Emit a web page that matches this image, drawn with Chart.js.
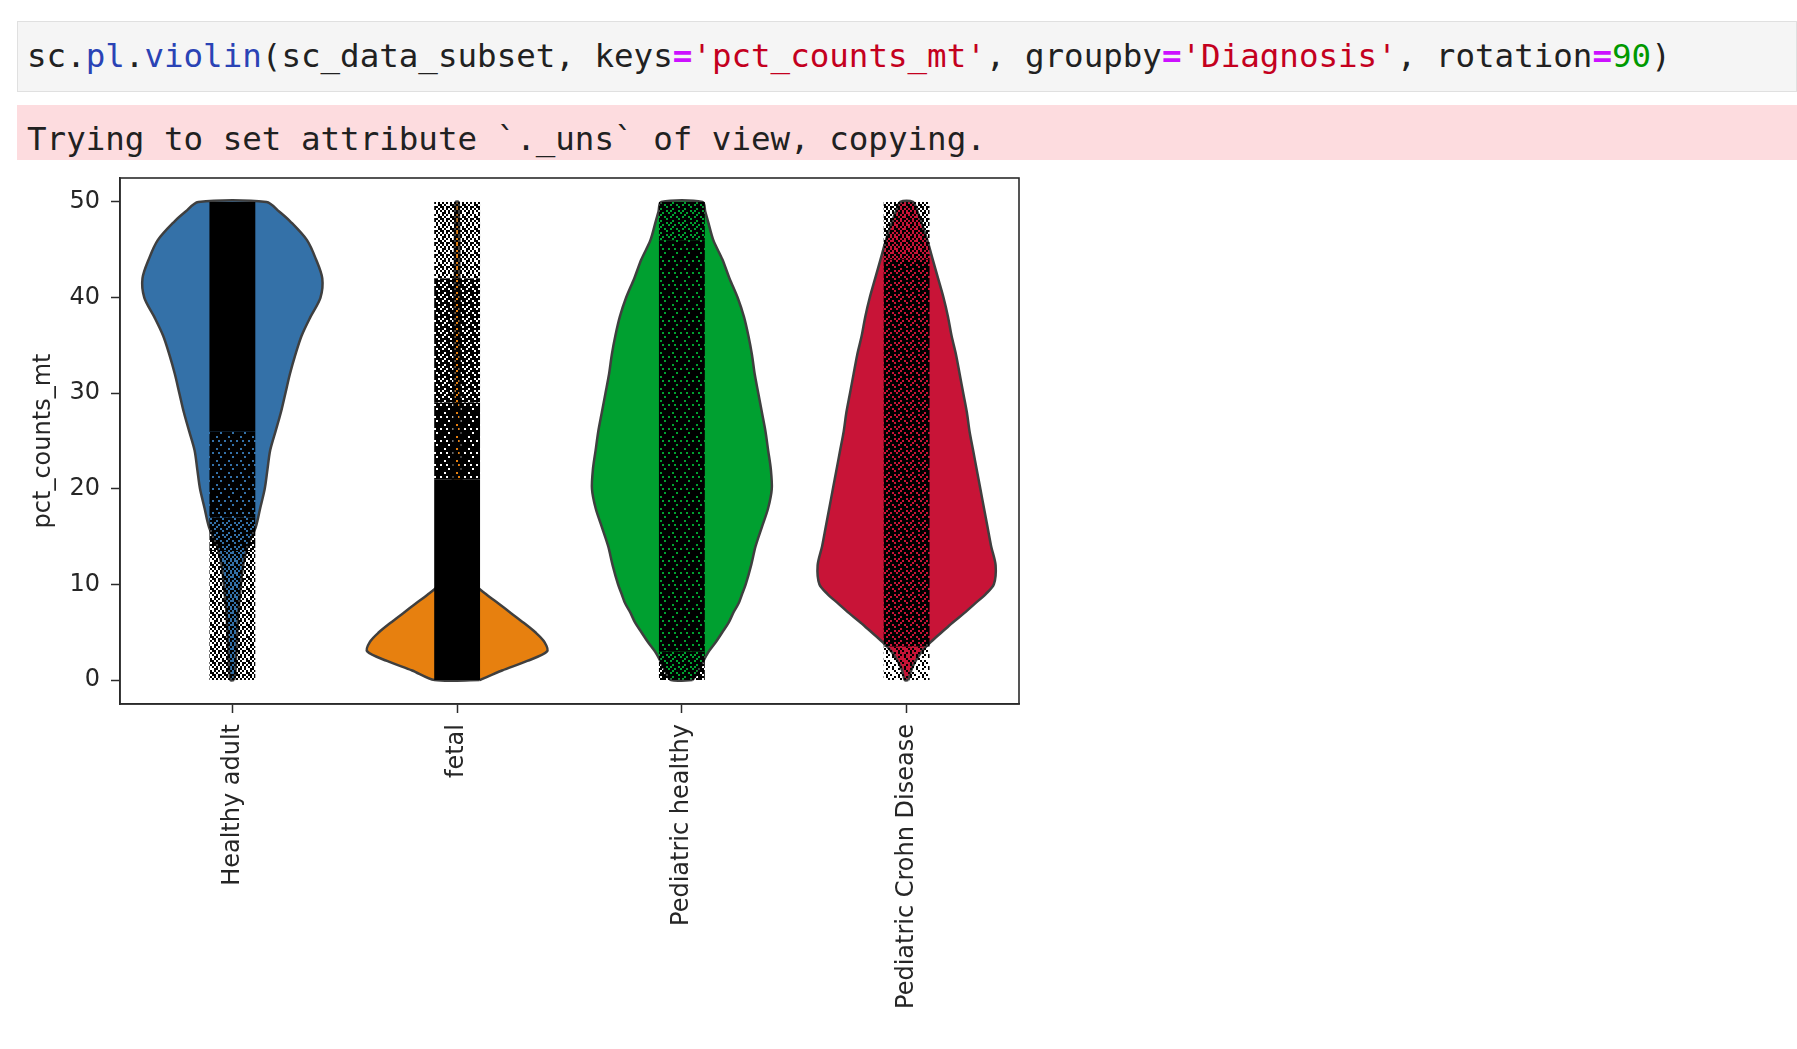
<!DOCTYPE html>
<html>
<head>
<meta charset="utf-8">
<script src="https://cdn.jsdelivr.net/npm/chart.js@4.4.0/dist/chart.umd.min.js"></script>
<style>
  body { margin: 0; background: #fff; width: 1797px; height: 1049px; overflow: hidden; position: relative; }
  .cell {
    position: absolute; left: 17px; width: 1780px; box-sizing: border-box;
    font-family: "DejaVu Sans Mono", monospace; font-size: 32.5px; line-height: 38px;
    white-space: pre; color: #212121;
  }
  #code { top: 21px; height: 71px; background: #f5f5f5; border: 1px solid #e0e0e0; padding: 15.3px 0 0 9px; }
  #err { top: 105px; height: 55px; background: #fddcdf; padding: 14.7px 0 0 10px; }
  .at { color: #2a43b5; }
  .op { color: #cc11ff; font-weight: bold; }
  .st { color: #c4001e; }
  .nu { color: #009900; }
  #wrap { position: absolute; left: 0; top: 150px; width: 1040px; height: 899px; }
</style>
</head>
<body>
<div id="code" class="cell">sc.<span class="at">pl</span>.<span class="at">violin</span>(sc_data_subset, keys<span class="op">=</span><span class="st">'pct_counts_mt'</span>, groupby<span class="op">=</span><span class="st">'Diagnosis'</span>, rotation<span class="op">=</span><span class="nu">90</span>)</div>
<div id="err" class="cell">Trying to set attribute `._uns` of view, copying.</div>
<div id="wrap"><canvas id="chart"></canvas></div>
<script>
// ---------------- data
const categories = ['Healthy adult', 'fetal', 'Pediatric healthy', 'Pediatric Crohn Disease'];
const violinColors = ['#3471a8', '#e7800f', '#00a030', '#c81437'];
const yTicks = [0, 10, 20, 30, 40, 50];

// violin half-width at each pct_counts_mt level (1 = widest violin)
const yLevels = [0, 1, 2, 3, 4, 5, 6, 7, 8, 9, 10, 12, 14, 16, 18, 20, 22, 24, 26, 28, 30, 32, 34, 36, 38, 40, 42, 44, 46, 48, 49, 50];
const adultWidth = [0.02, 0.035, 0.04, 0.045, 0.05, 0.055, 0.06, 0.065, 0.075, 0.085, 0.095, 0.12, 0.17, 0.26, 0.31, 0.36, 0.39, 0.42, 0.48, 0.54, 0.59, 0.64, 0.70, 0.77, 0.87, 0.98, 1.0, 0.93, 0.83, 0.64, 0.52, 0.38];
const fetalWidth = [0.25, 0.5, 0.78, 1.0, 0.97, 0.87, 0.74, 0.6, 0.46, 0.32, 0.2, 0.1, 0.07, 0.06, 0.055, 0.05, 0.045, 0.04, 0.04, 0.035, 0.035, 0.03, 0.03, 0.03, 0.03, 0.03, 0.025, 0.025, 0.025, 0.02, 0.02, 0.015];
const pedHealthyWidth = [0.12, 0.19, 0.24, 0.30, 0.38, 0.45, 0.52, 0.57, 0.63, 0.67, 0.71, 0.77, 0.82, 0.89, 0.96, 1.0, 0.99, 0.96, 0.93, 0.89, 0.85, 0.81, 0.78, 0.74, 0.69, 0.62, 0.53, 0.45, 0.35, 0.29, 0.26, 0.23];
const crohnWidth = [0.02, 0.05, 0.1, 0.17, 0.27, 0.39, 0.51, 0.64, 0.76, 0.88, 0.97, 0.99, 0.94, 0.9, 0.86, 0.82, 0.78, 0.74, 0.70, 0.67, 0.63, 0.59, 0.55, 0.5, 0.46, 0.41, 0.35, 0.29, 0.23, 0.16, 0.12, 0.07];

// jittered cells, as bands: [from, to, how crowded]
const adultStrip = [[0, 13.5, 'sparse'], [13.5, 17, 'mid'], [17, 26, 'dense'], [26, 50, 'solid']];
const fetalStrip = [[0, 21, 'solid'], [21, 29, 'dense'], [29, 42, 'mid'], [42, 50, 'sparse']];
const pedHealthyStrip = [[0, 3, 'mid'], [3, 46, 'dense'], [46, 50, 'mid']];
const crohnStrip = [[0, 3.5, 'faint'], [3.5, 44, 'mid'], [44, 50, 'sparse']];

const widths = [adultWidth, fetalWidth, pedHealthyWidth, crohnWidth];
const strips = [adultStrip, fetalStrip, pedHealthyStrip, crohnStrip];

// ---------------- styles
const violinHalf = 0.4;   // widest violin, in category units
const stripHalf = 0.102;
const coverage = { faint: 0.3, sparse: 0.52, mid: 0.74, dense: 0.88, solid: 1 };
// fill order of the 2px cells in a stipple tile (texture only)
const stippleOrder = [
  [0, 22, 9, 31, 14, 27],
  [17, 33, 4, 19, 35, 6],
  [28, 11, 25, 1, 23, 12],
  [3, 20, 34, 15, 8, 30],
  [24, 7, 13, 29, 18, 2],
  [32, 16, 26, 5, 21, 10]
];

const canvas = document.getElementById('chart');
const ctx = canvas.getContext('2d');

function makePattern(level) {
  if (coverage[level] >= 1) return '#000';
  const tile = document.createElement('canvas');
  tile.width = tile.height = 12;
  const t = tile.getContext('2d');
  t.fillStyle = '#000';
  for (let r = 0; r < 6; r++)
    for (let c = 0; c < 6; c++)
      if ((stippleOrder[r][c] + 0.5) / 36 < coverage[level]) t.fillRect(c * 2, r * 2, 2, 2);
  return ctx.createPattern(tile, 'repeat');
}
const patterns = {};
Object.keys(coverage).forEach(k => patterns[k] = makePattern(k));

function violinPath(center, w) {
  const right = yLevels.map((y, i) => ({ x: center + w[i] * violinHalf, y: y }));
  const left = yLevels.map((y, i) => ({ x: center - w[i] * violinHalf, y: y })).reverse();
  return right.concat(left, [right[0]]);
}

function bandPath(center, seg) {
  const lo = seg[0], hi = seg[1];
  return [
    { x: center - stripHalf, y: lo }, { x: center + stripHalf, y: lo },
    { x: center + stripHalf, y: hi }, { x: center - stripHalf, y: hi },
    { x: center - stripHalf, y: lo }
  ];
}

const datasets = [];
categories.forEach((name, i) => {
  datasets.push({
    label: name,
    data: violinPath(i, widths[i]),
    showLine: true, fill: 'shape',
    backgroundColor: violinColors[i],
    borderColor: '#3f3f3f', borderWidth: 2.5,
    pointRadius: 0, tension: 0.3, order: 2
  });
  strips[i].forEach(seg => {
    datasets.push({
      label: name + ' cells',
      data: bandPath(i, seg),
      showLine: true, fill: 'shape',
      backgroundColor: patterns[seg[2]],
      borderColor: 'rgba(0,0,0,0)', borderWidth: 0,
      pointRadius: 0, tension: 0, order: 1
    });
  });
});

const frame = {
  id: 'frame',
  afterDraw(chart) {
    const a = chart.chartArea, c = chart.ctx;
    c.save();
    c.strokeStyle = '#2b2b2b';
    c.lineWidth = 1.6;
    c.strokeRect(a.left, a.top, a.right - a.left, a.bottom - a.top);
    c.restore();
  }
};

const tickFont = { family: 'DejaVu Sans', size: 24 };

new Chart(canvas, {
  type: 'scatter',
  data: { datasets: datasets },
  options: {
    responsive: true, maintainAspectRatio: false,
    animation: false, events: [],
    layout: { padding: { top: 28, right: 21, left: 0, bottom: 0 } },
    plugins: { legend: { display: false }, tooltip: { enabled: false } },
    scales: {
      x: {
        type: 'linear', min: -0.5, max: 3.5,
        afterBuildTicks: s => { s.ticks = categories.map((_, i) => ({ value: i })); },
        afterFit: s => { s.height = 345; },
        ticks: {
          callback: v => categories[v],
          autoSkip: false, minRotation: 90, maxRotation: 90,
          font: tickFont, color: '#262626', padding: 11
        },
        grid: { drawOnChartArea: false, tickLength: 9, tickColor: '#2b2b2b', tickWidth: 1.5 },
        border: { display: true, color: '#2b2b2b', width: 1.6 }
      },
      y: {
        type: 'linear', min: -2.5, max: 52.5,
        afterBuildTicks: s => { s.ticks = yTicks.map(v => ({ value: v })); },
        afterFit: s => { s.width = 120; },
        ticks: { font: tickFont, color: '#262626', padding: 11 },
        title: { display: true, text: 'pct_counts_mt', font: tickFont, color: '#262626', padding: { top: 29 } },
        grid: { drawOnChartArea: false, tickLength: 9, tickColor: '#2b2b2b', tickWidth: 1.5 },
        border: { display: true, color: '#2b2b2b', width: 1.6 }
      }
    }
  },
  plugins: [frame]
});
</script>
</body>
</html>
